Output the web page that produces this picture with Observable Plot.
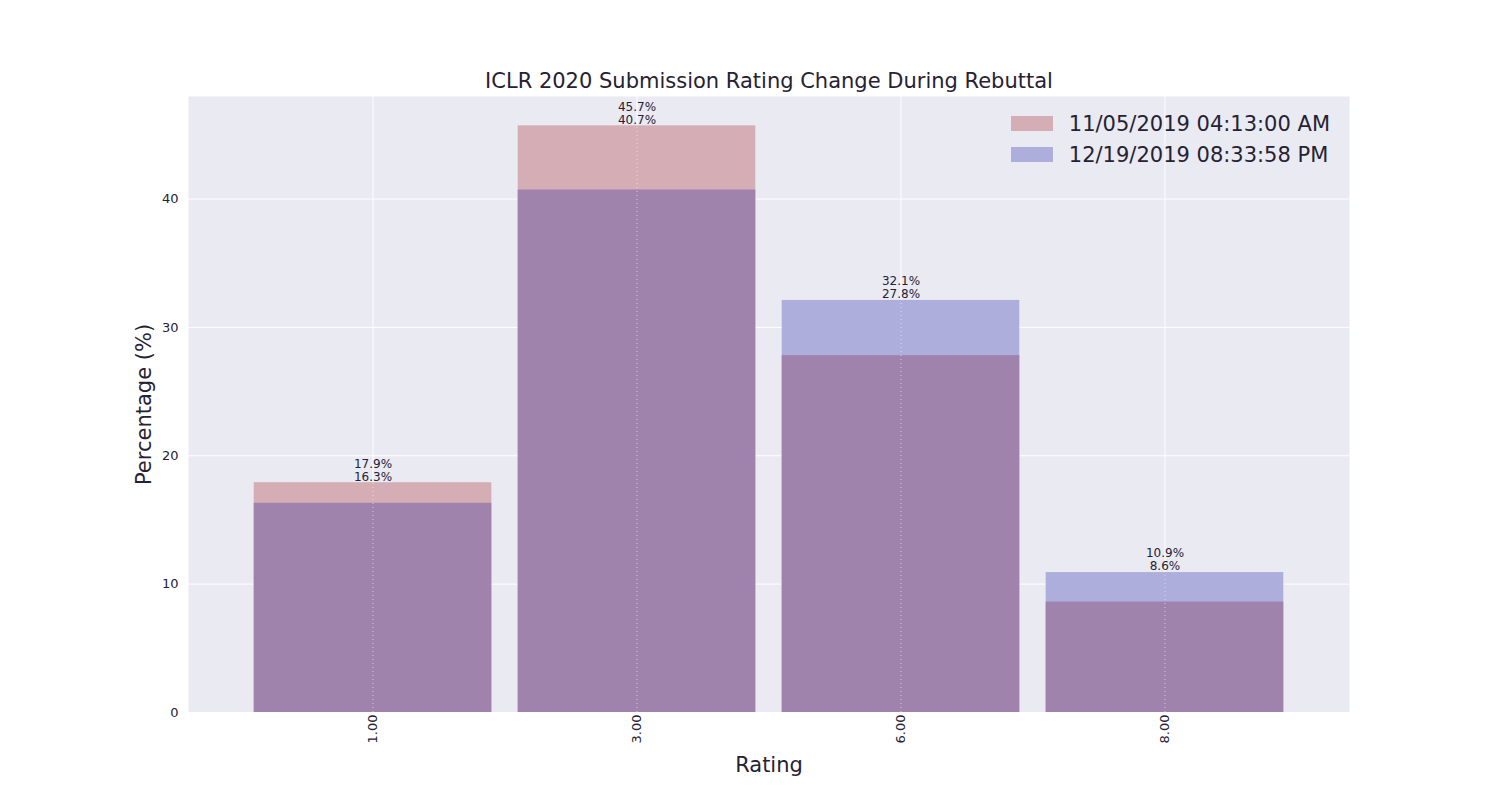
<!DOCTYPE html>
<html><head><meta charset="utf-8">
<script src="https://cdn.jsdelivr.net/npm/d3@7"></script>
<script src="https://cdn.jsdelivr.net/npm/@observablehq/plot@0.6"></script>
<style>
body{margin:0;background:#fff;font-family:"DejaVu Sans",sans-serif;}
#wrap{position:relative;width:1500px;height:800px;}
#legend{position:absolute;right:170px;top:108px;font-size:21px;color:#262233;}
.li{display:flex;align-items:center;height:31px;}
.sw{width:42px;height:15px;margin-right:16px;}
</style></head><body>
<div id="wrap"><div id="chart"></div>
<div id="legend"></div></div>
<script>
const ratings = ["1.00", "3.00", "6.00", "8.00"];
const seriesNames = ["11/05/2019 04:13:00 AM", "12/19/2019 08:33:58 PM"];
const before = [17.9, 45.7, 27.8, 8.6];
const after = [16.3, 40.7, 32.1, 10.9];
const seriesColors = ["#d4aeb4", "#aeaedc"];
const overlapColor = "#9f83ac";
const yTicks = [0, 10, 20, 30, 40];

const rows = ratings.map((r, i) => {
  const hi = Math.max(before[i], after[i]);
  const lo = Math.min(before[i], after[i]);
  return {r, hi, lo, hiColor: before[i] >= after[i] ? seriesColors[0] : seriesColors[1]};
});

const chart = Plot.plot({
  width: 1500, height: 800,
  marginLeft: 188, marginRight: 151, marginTop: 96, marginBottom: 88,
  style: {fontFamily: "DejaVu Sans, sans-serif", color: "#262233", background: "white"},
  x: {domain: ratings, paddingInner: 0.1, paddingOuter: 0.249, round: false, label: null},
  y: {domain: [0, 47.985], label: null},
  marks: [
    Plot.frame({fill: "#eaeaf2", stroke: null}),
    Plot.gridY(yTicks, {stroke: "white", strokeOpacity: 1, strokeWidth: 1}),
    Plot.gridX(ratings, {stroke: "white", strokeOpacity: 1, strokeWidth: 1}),
    Plot.barY(rows, {x: "r", y: "hi", fill: d => d.hiColor}),
    Plot.barY(rows, {x: "r", y: "lo", fill: overlapColor}),
    Plot.ruleX(rows, {x: "r", y1: 0, y2: "hi", stroke: "#f0dde8", strokeWidth: 1, strokeDasharray: "1,3", strokeOpacity: 0.8}),
    Plot.text(rows, {x: "r", y: "hi", text: d => d.hi.toFixed(1) + "%", dy: -19, fontSize: 12, fill: "#262233"}),
    Plot.text(rows, {x: "r", y: "hi", text: d => d.lo.toFixed(1) + "%", dy: -6, fontSize: 12, fill: "#262233"}),
    Plot.axisY(yTicks, {tickSize: 0, tickPadding: 10, fontSize: 13, label: null}),
    Plot.axisX(ratings, {tickSize: 0, tickPadding: 2, fontSize: 13, tickRotate: -90, label: null}),
    Plot.text(["ICLR 2020 Submission Rating Change During Rebuttal"], {frameAnchor: "top", lineAnchor: "middle", dy: -15, fontSize: 21, fill: "#262233"}),
    Plot.text(["Rating"], {frameAnchor: "bottom", lineAnchor: "middle", dy: 53, fontSize: 21, fill: "#262233"}),
    Plot.text(["Percentage (%)"], {frameAnchor: "left", textAnchor: "middle", dx: -44, rotate: -90, fontSize: 21, fill: "#262233"})
  ]
});
document.getElementById("chart").appendChild(chart);
const leg = document.getElementById("legend");
seriesNames.forEach((n, i) => {
  const d = document.createElement("div"); d.className = "li";
  const s = document.createElement("div"); s.className = "sw"; s.style.background = seriesColors[i];
  d.appendChild(s); d.appendChild(document.createTextNode(n)); leg.appendChild(d);
});
</script></body></html>
